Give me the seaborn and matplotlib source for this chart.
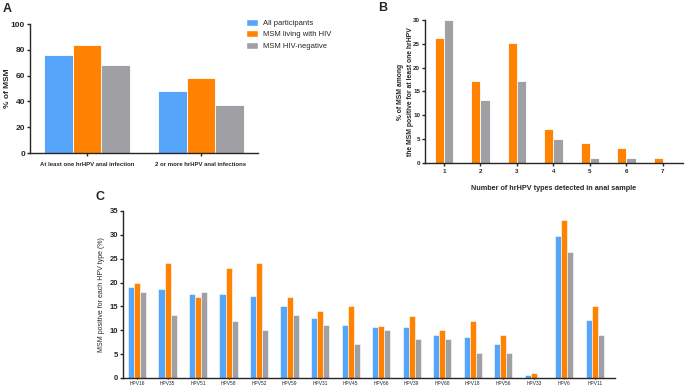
import pandas as pd
import seaborn as sns
import matplotlib.pyplot as plt

# Panel A
groups_a = ['At least one hrHPV anal infection', '2 or more hrHPV anal infections']
all_a = [76, 48]
hiv_a = [84, 58]
neg_a = [68, 37.5]

# Panel B
n_types = ['1', '2', '3', '4', '5', '6', '7']
hiv_b = [26.2, 17.2, 25.2, 7.1, 4.1, 3.1, 1.0]
neg_b = [30.0, 13.2, 17.1, 5.1, 1.0, 1.0, 0.0]

# Panel C
hpv_types = ['HPV16', 'HPV35', 'HPV51', 'HPV58', 'HPV52', 'HPV59', 'HPV31', 'HPV45',
             'HPV66', 'HPV39', 'HPV68', 'HPV18', 'HPV56', 'HPV33', 'HPV6', 'HPV11']
all_c = [19.0, 18.6, 17.6, 17.6, 17.1, 15.1, 12.6, 11.2, 10.6, 10.6, 9.1, 8.5, 7.1, 0.6, 29.7, 12.2]
hiv_c = [20.0, 24.0, 17.0, 23.0, 24.0, 17.0, 14.0, 15.1, 11.0, 13.0, 10.0, 12.0, 9.0, 1.0, 33.1, 15.1]
neg_c = [18.1, 13.1, 18.1, 12.0, 10.0, 13.1, 11.1, 7.1, 10.1, 8.1, 8.1, 5.2, 5.2, 0.0, 26.4, 9.1]

series = ['All participants', 'MSM living with HIV', 'MSM HIV-negative']
colors = {'All participants': '#55a5fb', 'MSM living with HIV': '#ff8300', 'MSM HIV-negative': '#a0a0a4'}

def long_df(cats, vals):
    rows = []
    for name, v in vals.items():
        for c, y in zip(cats, v):
            rows.append((c, name, y))
    return pd.DataFrame(rows, columns=['cat', 'series', 'value'])

df_a = long_df(groups_a, {series[0]: all_a, series[1]: hiv_a, series[2]: neg_a})
df_b = long_df(n_types, {series[1]: hiv_b, series[2]: neg_b})
df_c = long_df(hpv_types, {series[0]: all_c, series[1]: hiv_c, series[2]: neg_c})

sns.set_style('ticks')
plt.rcParams['font.family'] = ['Liberation Sans', 'DejaVu Sans']
plt.rcParams['axes.linewidth'] = 1.0

W, H = 685, 387
fig = plt.figure(figsize=(W / 100, H / 100), dpi=100)

def px_axes(x0, y0, x1, y1):
    return fig.add_axes([x0 / W, 1 - y1 / H, (x1 - x0) / W, (y1 - y0) / H])

def style(ax, xsize, ysize, xbold=True, xlen=2.5):
    sns.despine(ax=ax)
    ax.tick_params(axis='y', labelsize=ysize, length=2.5, width=1, pad=1)
    ax.tick_params(axis='x', labelsize=xsize, length=xlen, width=1, pad=1.5)
    for t in ax.get_yticklabels():
        t.set_fontweight('bold')
    if xbold:
        for t in ax.get_xticklabels():
            t.set_fontweight('bold')
    ax.set_xlabel('')

# ---- A ----
ax_a = px_axes(30, 24, 258, 153)
sns.barplot(data=df_a, x='cat', y='value', hue='series', palette=colors, width=0.75,
            saturation=1, edgecolor='white', linewidth=0.6, ax=ax_a, legend=False)
ax_a.set_xlim(-0.5, 1.5)
ax_a.set_ylim(0, 100)
ax_a.set_yticks([0, 20, 40, 60, 80, 100])
style(ax_a, 4.3, 6)
ax_a.set_ylabel('% of MSM', fontsize=6, fontweight='bold')
ax_a.yaxis.set_label_coords(-19 / 228, 0.5)
ax_a.tick_params(axis='x', pad=4)

handles = [plt.Rectangle((0, 0), 1, 1, facecolor=colors[s], edgecolor='white') for s in series]
fig.legend(handles, series, loc='upper left', bbox_to_anchor=(242 / W, 1 - 15 / H),
           frameon=False, fontsize=5.5, handlelength=1.6, handleheight=1.0,
           labelspacing=0.45, handletextpad=0.7, borderpad=0)

# ---- B ----
ax_b = px_axes(425, 20, 683, 163)
sns.barplot(data=df_b, x='cat', y='value', hue='series', palette=colors, width=0.5,
            saturation=1, edgecolor='white', linewidth=0.6, ax=ax_b, legend=False)
ax_b.set_xlim(-0.52, 6.55)
ax_b.set_ylim(0, 30)
ax_b.set_yticks([0, 5, 10, 15, 20, 25, 30])
style(ax_b, 4.5, 4.5)
ax_b.set_ylabel('% of MSM among\nthe MSM positive for at least one hrHPV',
                fontsize=4.9, fontweight='bold', linespacing=1.5)
ax_b.yaxis.set_label_coords(-11 / 258, 0.5)
ax_b.set_xlabel('Number of hrHPV types detected in anal sample', fontsize=5.2,
                fontweight='bold', labelpad=8)

# ---- C ----
ax_c = px_axes(123, 211, 615, 378)
sns.barplot(data=df_c, x='cat', y='value', hue='series', palette=colors, width=0.6,
            saturation=1, edgecolor='white', linewidth=0.4, ax=ax_c, legend=False)
ax_c.set_xlim(-0.46, 15.66)
ax_c.set_ylim(0, 35)
ax_c.set_yticks([0, 5, 10, 15, 20, 25, 30, 35])
style(ax_c, 3.5, 5.5, xbold=False, xlen=1)
ax_c.set_ylabel('MSM positive for each HPV type (%)', fontsize=5)
ax_c.yaxis.set_label_coords(-18 / 492, 0.5)

fig.text(3 / W, 1 - 12 / H, 'A', fontsize=9, fontweight='bold')
fig.text(378 / W, 1 - 11 / H, 'B', fontsize=9, fontweight='bold')
fig.text(95 / W, 1 - 200 / H, 'C', fontsize=9, fontweight='bold')

fig.savefig('out.png', dpi=100)
